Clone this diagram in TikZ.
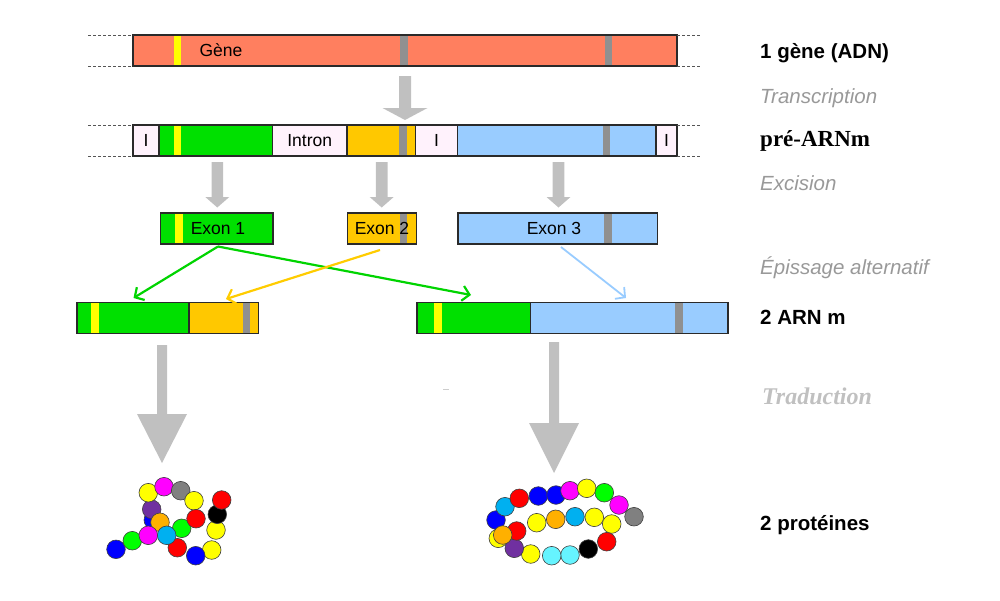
\documentclass[tikz,border=0pt]{standalone}
\usepackage{fontspec}
\setmainfont{Liberation Sans}
\newfontfamily\serifface{Liberation Serif}
\usetikzlibrary{arrows.meta}
\definecolor{genec}{HTML}{FF7F5F}
\definecolor{exg}{HTML}{00E000}
\definecolor{exo}{HTML}{FFC800}
\definecolor{exb}{HTML}{99CCFF}
\definecolor{intr}{HTML}{FFF2FC}
\definecolor{strY}{HTML}{FFFF00}
\definecolor{strG}{HTML}{909090}
\definecolor{arrG}{HTML}{C0C0C0}
\definecolor{lblG}{HTML}{999999}
\definecolor{bordc}{HTML}{2A2A2A}
\definecolor{dashc}{HTML}{555555}
\definecolor{cGreen}{HTML}{00D400}
\definecolor{cOrange}{HTML}{FFCC00}
\definecolor{cBlue}{HTML}{99CCFF}
\definecolor{bY}{HTML}{FFFF00}
\definecolor{bM}{HTML}{FF00FF}
\definecolor{bGr}{HTML}{808080}
\definecolor{bP}{HTML}{7030A0}
\definecolor{bB}{HTML}{0000FF}
\definecolor{bO}{HTML}{FFB000}
\definecolor{bG}{HTML}{00FF00}
\definecolor{bR}{HTML}{FF0000}
\definecolor{bK}{HTML}{000000}
\definecolor{bC}{HTML}{00B0F0}
\definecolor{bLC}{HTML}{66F4FF}
\definecolor{beadc}{HTML}{404040}
\newcommand\segfont{\fontsize{17.5}{20}\selectfont}
\newcommand\lblfont{\fontsize{20.5}{24}\selectfont\bfseries}
\newcommand\stepfont{\fontsize{20.5}{24}\selectfont\itshape}
% block arrow: cx, ytop, yhead, ytip, half shaft, half head
\newcommand\blockarr[6]{\fill[arrG] ({#1-#5},#2) -- ({#1+#5},#2) -- ({#1+#5},#3) -- ({#1+#6},#3) -- (#1,#4) -- ({#1-#6},#3) -- ({#1-#5},#3) -- cycle;}
% stripe: x1, x2, ytop, colour
\newcommand\stripe[4]{\fill[#4] (#1,{#3+0.55}) rectangle (#2,{#3+30.45});}
\newcommand\bead[3]{\draw[bead,fill=#3] (#1,#2) circle[radius=9.3];}
\begin{document}
\begin{tikzpicture}[x=1pt,y=-1pt,
  seg/.style={draw=bordc, line width=1.1pt, inner sep=0pt, outer sep=0pt, anchor=north west, minimum height=31pt, font=\segfont},
  dashln/.style={draw=dashc, line width=0.8pt, dash pattern=on 3pt off 2pt},
  lbl/.style={anchor=base west, inner sep=0pt, font=\lblfont},
  stepnote/.style={anchor=base west, inner sep=0pt, font=\stepfont, text=lblG},
  conn/.style={line width=2.2pt, -{Straight Barb[length=7pt,width=15pt]}},
  bead/.style={draw=beadc, line width=0.6pt}]
\useasboundingbox (0,0) rectangle (1000,600);

% ---------- gene (DNA)
\node[seg, fill=genec, minimum width=544pt] (gene) at (133,35) {};
\stripe{174}{181}{35}{strY}
\stripe{400}{408}{35}{strG}
\stripe{605}{612}{35}{strG}
\node[inner sep=0pt, font=\segfont] (genetxt) at (221,50.5) {Gène};
\coordinate (gdl1) at (88,35);
\coordinate (gdl2) at (88,66);
\coordinate (gdr1) at (700,35);
\coordinate (gdr2) at (700,66);
\draw[dashln] (gdl1) -- (gene.north west);
\draw[dashln] (gdl2) -- (gene.south west);
\draw[dashln] (gene.north east) -- (gdr1);
\draw[dashln] (gene.south east) -- (gdr2);

% ---------- transcription arrow
\blockarr{405}{76}{108}{120}{6}{22.5}

% ---------- pre-mRNA
\node[seg, fill=intr, minimum width=26pt] (p1) at (133,125) {I};
\node[seg, fill=exg, minimum width=113.5pt] (p2) at (159,125) {};
\node[seg, fill=intr, minimum width=74.5pt] (p3) at (272.5,125) {Intron};
\node[seg, fill=exo, minimum width=68.5pt] (p4) at (347,125) {};
\node[seg, fill=intr, minimum width=42pt] (p5) at (415.5,125) {I};
\node[seg, fill=exb, minimum width=198.5pt] (p6) at (457.5,125) {};
\node[seg, fill=intr, minimum width=21pt] (p7) at (656,125) {I};
\stripe{174}{181}{125}{strY}
\stripe{399}{406.5}{125}{strG}
\stripe{603}{610}{125}{strG}
\coordinate (pdl1) at (88,125);
\coordinate (pdl2) at (88,156);
\coordinate (pdr1) at (700,125);
\coordinate (pdr2) at (700,156);
\draw[dashln] (pdl1) -- (p1.north west);
\draw[dashln] (pdl2) -- (p1.south west);
\draw[dashln] (p7.north east) -- (pdr1);
\draw[dashln] (p7.south east) -- (pdr2);

% ---------- excision arrows
\blockarr{217.3}{162}{197}{207.5}{5.8}{12}
\blockarr{381.7}{162}{197}{207.5}{5.8}{12}
\blockarr{558.5}{162}{197}{207.5}{5.8}{12}

% ---------- exons
\node[seg, fill=exg, minimum width=112.5pt] (ex1) at (160.5,213) {};
\node[seg, fill=exo, minimum width=69pt] (ex2) at (347.5,213) {};
\node[seg, fill=exb, minimum width=199.5pt] (ex3) at (458,213) {};
\stripe{175}{183}{213}{strY}
\stripe{400}{407}{213}{strG}
\stripe{604}{611.5}{213}{strG}
\node[inner sep=0pt, font=\segfont] (ex1t) at (218,228.5) {Exon 1};
\node[inner sep=0pt, font=\segfont] (ex2t) at (382,228.5) {Exon 2};
\node[inner sep=0pt, font=\segfont] (ex3t) at (554,228.5) {Exon 3};

% ---------- mRNAs
\node[seg, fill=exg, minimum width=112pt] (mL1) at (77,302.5) {};
\node[seg, fill=exo, minimum width=69.5pt] (mL2) at (189,302.5) {};
\node[seg, fill=exg, minimum width=113.5pt] (mR1) at (417,302.5) {};
\node[seg, fill=exb, minimum width=197.5pt] (mR2) at (530.5,302.5) {};
\stripe{91}{99}{302.5}{strY}
\stripe{243}{250}{302.5}{strG}
\stripe{434}{441.5}{302.5}{strY}
\stripe{675}{683}{302.5}{strG}

% ---------- splicing connectors
\coordinate (e1a) at (218,246.5);
\coordinate (e2a) at (380,250);
\coordinate (e3a) at (561,247);
\coordinate (mLa) at (133.5,298);
\coordinate (mLb) at (226,299);
\coordinate (mRa) at (471,295);
\coordinate (mRb) at (626,298);
\draw[conn, cGreen] (e1a) -- (mLa);
\draw[conn, cGreen] (e1a) -- (mRa);
\draw[conn, cOrange] (e2a) -- (mLb);
\draw[conn, cBlue, line width=1.8pt] (e3a) -- (mRb);

% ---------- translation arrows
\blockarr{162}{345}{414}{463}{5}{25}
\blockarr{554}{342}{423}{473}{5}{25}
\draw[arrG!80, line width=1pt] (443,389.5) -- (449,389.5);

% ---------- protein 1
\bead{153.3}{520}{bB}
\bead{151.7}{509.3}{bP}
\bead{148.3}{492.7}{bY}
\bead{164}{486.7}{bM}
\bead{180.7}{490.7}{bGr}
\bead{194}{500.7}{bY}
\bead{181.7}{528.3}{bG}
\bead{196}{518.7}{bR}
\bead{160}{522.3}{bO}
\bead{216}{530}{bY}
\bead{217.3}{514.3}{bK}
\bead{221.7}{500}{bR}
\bead{211.7}{550}{bY}
\bead{195.7}{555.7}{bB}
\bead{177.3}{547.7}{bR}
\bead{116}{549.3}{bB}
\bead{132.3}{540.7}{bG}
\bead{148.3}{535.3}{bM}
\bead{166.7}{535.3}{bC}

% ---------- protein 2
\bead{496}{520}{bB}
\bead{505}{506.7}{bC}
\bead{519.3}{498.3}{bR}
\bead{538.3}{496}{bB}
\bead{556}{495}{bB}
\bead{570}{490.7}{bM}
\bead{586.7}{488.3}{bY}
\bead{604.3}{492.7}{bG}
\bead{619}{505}{bM}
\bead{634}{516.7}{bGr}
\bead{536.7}{522.7}{bY}
\bead{555.7}{519.3}{bO}
\bead{575}{516.7}{bC}
\bead{594.3}{517.3}{bY}
\bead{611.7}{524}{bY}
\bead{606.7}{541.7}{bR}
\bead{588.3}{549}{bK}
\bead{570}{555}{bLC}
\bead{551.7}{555.7}{bLC}
\bead{530.7}{554}{bY}
\bead{498.3}{538.3}{bY}
\bead{514.3}{548.3}{bP}
\bead{516.7}{531}{bR}
\bead{502.7}{535}{bO}

% ---------- right-hand labels
\node[lbl] (l1) at (760,58.5) {1 gène (ADN)};
\node[stepnote] (l2) at (760,103) {Transcription};
\node[anchor=base west, inner sep=0pt, font=\serifface\fontsize{23}{26}\selectfont\bfseries] (l3) at (760,146) {pré-ARNm};
\node[stepnote] (l4) at (760,190.5) {Excision};
\node[stepnote] (l5) at (760,274) {Épissage alternatif};
\node[lbl] (l6) at (760,324.5) {2 ARN m};
\node[anchor=base west, inner sep=0pt, font=\serifface\fontsize{24}{27}\selectfont\bfseries\itshape, text=arrG] (l7) at (762,404) {Traduction};
\node[lbl] (l8) at (760,530) {2 protéines};
\end{tikzpicture}
\end{document}
